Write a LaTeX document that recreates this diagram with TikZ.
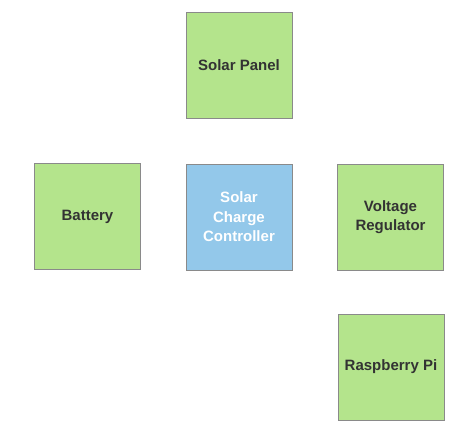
\documentclass[tikz,border=0pt]{standalone}
\usepackage{fontspec}
\setmainfont{Liberation Sans}
\definecolor{boxgreen}{HTML}{B4E48C}
\definecolor{boxblue}{HTML}{93C8EA}
\definecolor{boxline}{HTML}{8A8A8A}
\definecolor{txtdark}{HTML}{333333}
\begin{document}
\begin{tikzpicture}[x=1pt,y=-1pt,
  blk/.style={draw=boxline, line width=1pt, minimum width=106pt, minimum height=106pt,
    inner sep=0pt, align=center, font=\fontsize{15}{19.5}\selectfont\bfseries, text=txtdark},
  gbox/.style={blk, fill=boxgreen},
  bbox/.style={blk, fill=boxblue, text=white}]
\useasboundingbox (0,0) rectangle (474,434);
\node[gbox] (panel) at (239,65.5) {Solar Panel};
\node[gbox] (battery) at (87.5,216.5) {Battery};
\node[bbox] (ctrl) at (239,217) {Solar\\Charge\\Controller};
\node[gbox] (reg) at (390.5,217) {Voltage\\Regulator};
\node[gbox] (pi) at (391,367) {Raspberry Pi};
\end{tikzpicture}
\end{document}
